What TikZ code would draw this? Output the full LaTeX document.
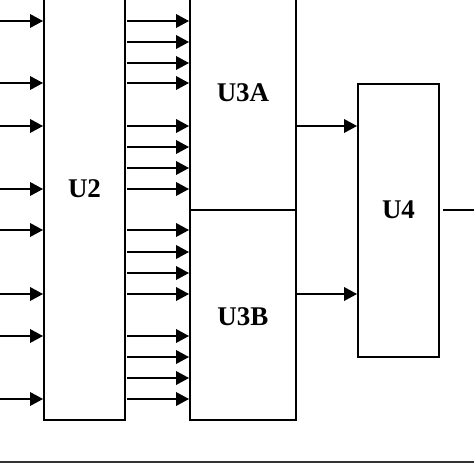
\documentclass[tikz,border=0pt]{standalone}
\usepackage{fontspec}
\setmainfont{Liberation Serif}
\usetikzlibrary{arrows.meta}
\tikzset{
  blk/.style = {draw=black, line width=1.9pt, rectangle, inner sep=0pt},
  lbl/.style = {font=\fontsize{27}{30}\selectfont\bfseries, inner sep=0pt}
}

\begin{document}
\begin{tikzpicture}[x=1pt,y=-1pt,line width=1.9pt,
  ->,>={Triangle[length=13pt,width=13.5pt]}]
\useasboundingbox (0,0) rectangle (474,474);

\node[blk, minimum width=81pt, minimum height=420.5pt] (u2) at (84.5,209.75) {};
\node[blk, minimum width=106pt, minimum height=210.5pt] (u3a) at (243,104.75) {};
\node[blk, minimum width=106pt, minimum height=210pt] (u3b) at (243,315) {};
\node[blk, minimum width=81pt, minimum height=273pt] (u4) at (398.5,220.5) {};

\node[lbl] (t2) at (84.5,189) {U2};
\node[lbl] (t3a) at (243,93) {U3A};
\node[lbl] (t3b) at (243,317) {U3B};
\node[lbl] (t4) at (398.5,210) {U4};

% inputs of U2
\foreach \y [count=\i] in {21,83,126,189,230,294,336,399}{
  \coordinate (in\i) at (0,\y);
  \draw (in\i) -- (in\i -| u2.west);
}
% U2 to U3A / U3B
\foreach \y [count=\i] in {21,42,63,83,126,147,168,189}{
  \coordinate (a\i) at (127,\y);
  \draw (a\i) -- (a\i -| u3a.west);
}
\foreach \y [count=\i] in {230,252,273,294,336,357,378,399}{
  \coordinate (b\i) at (127,\y);
  \draw (b\i) -- (b\i -| u3b.west);
}
% U3 to U4
\coordinate (pa) at (296,126);
\coordinate (pb) at (296,294);
\draw (pa) -- (pa -| u4.west);
\draw (pb) -- (pb -| u4.west);
\coordinate (out) at (474,210);
\draw[-] ([xshift=3pt]u4.east |- out) -- (out);

\draw[-, line width=1.4pt, black!80] (0,462) -- (474,462);
\end{tikzpicture}
\end{document}
